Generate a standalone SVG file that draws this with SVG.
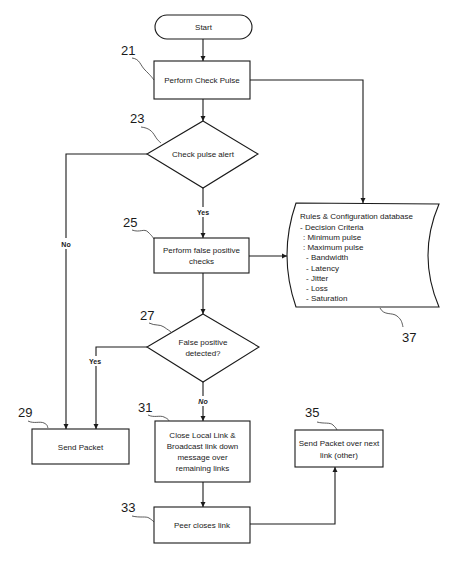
<svg xmlns="http://www.w3.org/2000/svg" width="474" height="561" viewBox="0 0 474 561">
<style>
.s{fill:#fff;stroke:#1a1a1a;stroke-width:1.1}
.t{font-family:"Liberation Sans",Arial,sans-serif;font-size:8px;fill:#1a1a1a;text-anchor:middle}
.tl{font-family:"Liberation Sans",Arial,sans-serif;font-size:8px;fill:#1a1a1a}
.n{font-family:"Liberation Sans",Arial,sans-serif;font-size:13px;fill:#1a1a1a}
.y{font-family:"Liberation Sans",Arial,sans-serif;font-size:7px;font-weight:bold;fill:#1a1a1a;text-anchor:middle}
.c{fill:none;stroke:#1a1a1a;stroke-width:1.1}
.l{fill:none;stroke:#333;stroke-width:0.8}
</style>
<defs>
<marker id="a" markerWidth="6" markerHeight="6" refX="5" refY="3" orient="auto" markerUnits="userSpaceOnUse">
<path d="M0,0.5 L5,3 L0,5.5 z" fill="#1a1a1a"/>
</marker>
</defs>
<rect width="474" height="561" fill="#fff"/>
<g id="connectors">
<path class="c" d="M203,39 V61" marker-end="url(#a)"/>
<path class="c" d="M203,99 V121" marker-end="url(#a)"/>
<path class="c" d="M250,80 H363 V203" marker-end="url(#a)"/>
<path class="c" d="M203,188 V238" marker-end="url(#a)"/>
<path class="c" d="M147,154 H66 V429" marker-end="url(#a)"/>
<path class="c" d="M249,256 H287" marker-end="url(#a)"/>
<path class="c" d="M203,273 V314" marker-end="url(#a)"/>
<path class="c" d="M147,347 H96 V429" marker-end="url(#a)"/>
<path class="c" d="M203,382 V421" marker-end="url(#a)"/>
<path class="c" d="M203,482 V507" marker-end="url(#a)"/>
<path class="c" d="M250,524 H335 V467" marker-end="url(#a)"/>
<rect x="56" y="238" width="20" height="11" fill="#fff"/>
<text class="y" x="66" y="247">No</text>
<rect x="192" y="207" width="22" height="10" fill="#fff"/>
<text class="y" x="203" y="215">Yes</text>
<rect x="84" y="356" width="22" height="10" fill="#fff"/>
<text class="y" x="95" y="364">Yes</text>
<rect x="194" y="396" width="18" height="10" fill="#fff"/>
<text class="y" x="203" y="404" font-style="italic">No</text>
</g>
<g id="start">
<rect class="s" x="155" y="15" width="97" height="24" rx="12"/>
<text class="t" x="203.5" y="30">Start</text>
</g>
<g id="n21">
<rect class="s" x="154" y="61" width="96" height="38"/>
<text class="t" x="202" y="83">Perform Check Pulse</text>
<text class="n" x="121" y="55">21</text>
<path class="l" d="M132,58 C140,59 140,65 145,70 S151,76 154,80"/>
</g>
<g id="n23">
<path class="s" d="M203,121 L258,154 L203,188 L147,154 Z"/>
<text class="t" x="203" y="157">Check pulse alert</text>
<text class="n" x="130" y="123">23</text>
<path class="l" d="M141,127 C149,128 152,131 155,136 S159,141 161,143"/>
</g>
<g id="n25">
<rect class="s" x="154" y="238" width="95" height="35"/>
<text class="t" x="201.5" y="253">Perform false positive</text>
<text class="t" x="201.5" y="264">checks</text>
<text class="n" x="123" y="227">25</text>
<path class="l" d="M132,230 C140,233 144,228 148,232 S152,236 154,239"/>
</g>
<g id="n27">
<path class="s" d="M203,314 L259,347 L203,382 L147,347 Z"/>
<text class="t" x="203" y="345">False positive</text>
<text class="t" x="203" y="356">detected?</text>
<text class="n" x="140" y="320">27</text>
<path class="l" d="M149,323 C155,326 160,324 164,327 S169,330 172,333"/>
</g>
<g id="n29">
<rect class="s" x="32" y="429" width="97" height="35"/>
<text class="t" x="80.5" y="450">Send Packet</text>
<text class="n" x="18" y="417">29</text>
<path class="l" d="M28,421 C34,424 40,421 44,423 S47,426 48,428"/>
</g>
<g id="n31">
<rect class="s" x="155" y="421" width="95" height="61"/>
<text class="t" x="202.5" y="438">Close Local Link &amp;</text>
<text class="t" x="202.5" y="449">Broadcast link down</text>
<text class="t" x="202.5" y="460">message over</text>
<text class="t" x="202.5" y="471">remaining links</text>
<text class="n" x="138" y="412">31</text>
<path class="l" d="M148,415 C154,418 160,415 164,417 S168,419 169,421"/>
</g>
<g id="n33">
<rect class="s" x="154" y="507" width="96" height="36"/>
<text class="t" x="202" y="528">Peer closes link</text>
<text class="n" x="121" y="512">33</text>
<path class="l" d="M132,516 C140,518 146,516 149,518 S152,520 154,522"/>
</g>
<g id="n35">
<rect class="s" x="295" y="430" width="88" height="37"/>
<text class="t" x="339" y="446">Send Packet over next</text>
<text class="t" x="339" y="458">link (other)</text>
<text class="n" x="305" y="417">35</text>
<path class="l" d="M317,422 C324,424 330,422 333,425 S336,428 337,430"/>
</g>
<g id="n37">
<path class="s" d="M296,203 L439,204 Q417,255.5 439,307 L296,307 Q278,255 296,203 Z"/>
<text class="tl" x="300" y="219">Rules &amp; Configuration database</text>
<text class="tl" x="300" y="229.5">- Decision Criteria</text>
<text class="tl" x="303" y="240">: Minimum pulse</text>
<text class="tl" x="303" y="250">: Maximum pulse</text>
<text class="tl" x="306" y="260">- Bandwidth</text>
<text class="tl" x="306" y="270.5">- Latency</text>
<text class="tl" x="306" y="281">- Jitter</text>
<text class="tl" x="306" y="291">- Loss</text>
<text class="tl" x="306" y="301">- Saturation</text>
<text class="n" x="402" y="342">37</text>
<path class="l" d="M380,308 C384,316 392,312 397,316 S402,323 403,327"/>
</g>
</svg>
